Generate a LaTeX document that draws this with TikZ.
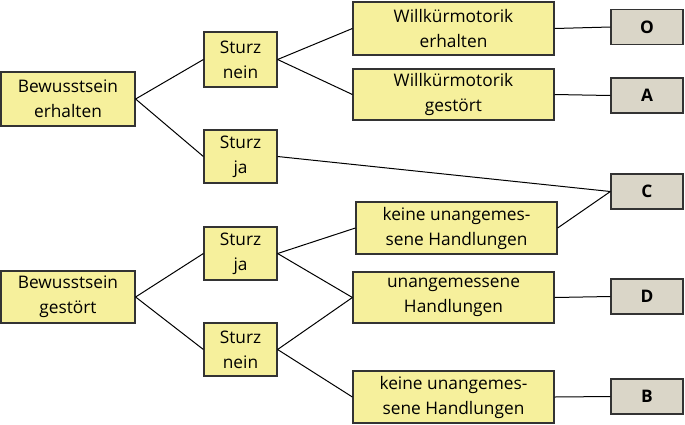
\documentclass[tikz,border=0pt]{standalone}
\usepackage{fontspec}
\setmainfont{Open Sans}
\definecolor{boxyellow}{HTML}{F6F09C}
\definecolor{boxgray}{HTML}{DAD6C8}
\definecolor{edge}{HTML}{333333}
\begin{document}
\begin{tikzpicture}[x=1pt,y=-1pt,
  base/.style={draw=edge,line width=1.2pt,inner sep=0pt,align=center,font=\fontsize{17.3}{25}\selectfont},
  ybox/.style={base,fill=boxyellow},
  gbox/.style={base,fill=boxgray,font=\fontsize{17.3}{25}\selectfont\bfseries,minimum width=72pt,minimum height=35pt},
  link/.style={draw=black,line width=1pt}]
\useasboundingbox (0,0) rectangle (685,424);
\node[ybox,minimum width=134pt,minimum height=54pt] (be) at (68,99) {Bewusstsein\\erhalten};
\node[ybox,minimum width=73pt,minimum height=55pt] (sn1) at (240.5,59.5) {Sturz\\nein};
\node[ybox,minimum width=73pt,minimum height=53pt] (sj1) at (240.5,156.5) {Sturz\\ja};
\node[ybox,minimum width=201pt,minimum height=53pt] (we) at (453.5,28.5) {Willkürmotorik\\erhalten};
\node[ybox,minimum width=201pt,minimum height=51pt] (wg) at (453.5,94.5) {Willkürmotorik\\gestört};
\node[gbox] (O) at (647,27) {O};
\node[gbox] (A) at (647,95.5) {A};
\node[gbox] (C) at (647,191.5) {C};
\node[ybox,minimum width=134pt,minimum height=52pt] (bg) at (68,297) {Bewusstsein\\gestört};
\node[ybox,minimum width=73pt,minimum height=53pt] (sj2) at (240.5,253.5) {Sturz\\ja};
\node[ybox,minimum width=73pt,minimum height=53pt] (sn2) at (240.5,349.5) {Sturz\\nein};
\node[ybox,minimum width=201pt,minimum height=52pt] (k1) at (456.5,228) {keine unangemes-\\sene Handlungen};
\node[ybox,minimum width=201pt,minimum height=51pt] (u) at (453.5,297.5) {unangemessene\\Handlungen};
\node[ybox,minimum width=201pt,minimum height=52pt] (k2) at (453.5,397) {keine unangemes-\\sene Handlungen};
\node[gbox] (D) at (647,296.5) {D};
\node[gbox] (B) at (647,396.5) {B};
\draw[link] (be.east) -- (sn1.west);
\draw[link] (be.east) -- (sj1.west);
\draw[link] (sn1.east) -- (we.west);
\draw[link] (sn1.east) -- (wg.west);
\draw[link] (we.east) -- (O.west);
\draw[link] (wg.east) -- (A.west);
\draw[link] (sj1.east) -- (C.west);
\draw[link] (k1.east) -- (C.west);
\draw[link] (bg.east) -- (sj2.west);
\draw[link] (bg.east) -- (sn2.west);
\draw[link] (sj2.east) -- (k1.west);
\draw[link] (sj2.east) -- (u.west);
\draw[link] (sn2.east) -- (u.west);
\draw[link] (sn2.east) -- (k2.west);
\draw[link] (u.east) -- (D.west);
\draw[link] (k2.east) -- (B.west);
\end{tikzpicture}
\end{document}
